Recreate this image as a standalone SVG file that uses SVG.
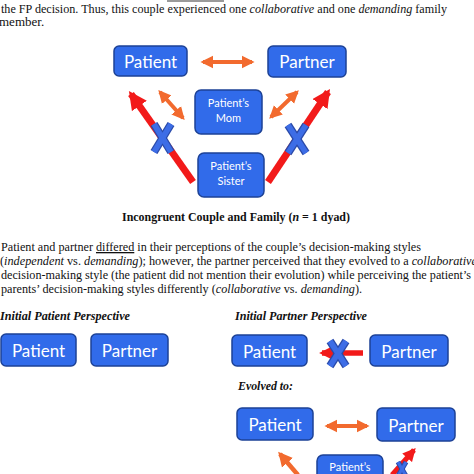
<svg xmlns="http://www.w3.org/2000/svg" width="474" height="474" viewBox="0 0 474 474">
<style>
.t{font-family:"Liberation Serif","Times New Roman",serif;font-size:13px;fill:#111}
.h{font-family:"Liberation Serif","Times New Roman",serif;font-size:13px;font-weight:bold;fill:#111}
.hi{font-family:"Liberation Serif","Times New Roman",serif;font-size:12.5px;font-weight:bold;font-style:italic;fill:#111}
.i{font-style:italic}
.box{fill:#316BEA;stroke:#1D4296;stroke-width:1.5}
.bl{font-family:Lato,"Open Sans",sans-serif;font-size:17px;fill:#fff;text-anchor:middle}
.bs{font-family:Lato,"Open Sans",sans-serif;font-size:11px;fill:#fff;text-anchor:middle}
.or{stroke:#F26A2E;stroke-width:4;fill:none}
.rd{stroke:#F21A1A;stroke-width:7;fill:none}
.xo{stroke:#2A4AA8;stroke-width:8;stroke-linecap:butt}
.xi{stroke:#3D6DE6;stroke-width:5.5;stroke-linecap:butt}
</style>
<defs>
<marker id="oh" viewBox="0 0 10 10" refX="8" refY="5" markerWidth="3.2" markerHeight="3.4" orient="auto-start-reverse" markerUnits="strokeWidth"><path d="M0,0 L10,5 L0,10 Z" fill="#F26A2E"/></marker>
<marker id="rh" viewBox="0 0 10 10" refX="8" refY="5" markerWidth="2.6" markerHeight="2.6" orient="auto" markerUnits="strokeWidth"><path d="M0,0 L10,5 L0,10 Z" fill="#F21A1A"/></marker>
</defs>
<rect width="474" height="474" fill="#fff"/>
<rect x="167" y="0" width="57" height="2" fill="#9a9a9a"/>
<text class="t" x="1" y="13" textLength="446" lengthAdjust="spacingAndGlyphs">the FP decision. Thus, this couple experienced one <tspan class="i">collaborative</tspan> and one <tspan class="i">demanding</tspan> family</text>
<text class="t" x="-1" y="26">member.</text>
<text class="h" x="236" y="221" text-anchor="middle" textLength="228" lengthAdjust="spacingAndGlyphs">Incongruent Couple and Family (<tspan class="i">n</tspan> = 1 dyad)</text>
<text class="t" x="1" y="251" textLength="420" lengthAdjust="spacingAndGlyphs">Patient and partner <tspan text-decoration="underline">differed</tspan> in their perceptions of the couple’s decision-making styles</text>
<text class="t" x="0" y="265" textLength="477" lengthAdjust="spacingAndGlyphs">(<tspan class="i">independent</tspan> vs. <tspan class="i">demanding</tspan>); however, the partner perceived that they evolved to a <tspan class="i">collaborative</tspan></text>
<text class="t" x="1" y="279" textLength="470" lengthAdjust="spacingAndGlyphs">decision-making style (the patient did not mention their evolution) while perceiving the patient’s</text>
<text class="t" x="1" y="293" textLength="361" lengthAdjust="spacingAndGlyphs">parents’ decision-making styles differently (<tspan class="i">collaborative</tspan> vs. <tspan class="i">demanding</tspan>).</text>
<text class="hi" x="0" y="320" textLength="130" lengthAdjust="spacingAndGlyphs">Initial Patient Perspective</text>
<text class="hi" x="235" y="320" textLength="132" lengthAdjust="spacingAndGlyphs">Initial Partner Perspective</text>
<text class="hi" x="238" y="390" textLength="55" lengthAdjust="spacingAndGlyphs">Evolved to:</text>
<g id="connectors">
<line class="or" x1="203" y1="62" x2="252" y2="62" marker-start="url(#oh)" marker-end="url(#oh)"/>
<line class="or" x1="160" y1="92" x2="183" y2="118" marker-start="url(#oh)" marker-end="url(#oh)"/>
<line class="or" x1="297" y1="92" x2="271" y2="117" marker-start="url(#oh)" marker-end="url(#oh)"/>
<line class="rd" x1="193" y1="182" x2="131" y2="94" marker-end="url(#rh)"/>
<line class="rd" x1="268" y1="182" x2="328" y2="92" marker-end="url(#rh)"/>
<line class="rd" x1="363" y1="353" x2="322" y2="353" marker-end="url(#rh)" style="stroke-width:5.5"/>
<line class="or" x1="327" y1="426" x2="367" y2="426" marker-start="url(#oh)" marker-end="url(#oh)"/>
<line class="or" x1="298" y1="475" x2="280" y2="454" marker-end="url(#oh)" style="stroke-width:4.5"/>
<line class="rd" x1="392" y1="475" x2="414" y2="450" marker-end="url(#rh)" style="stroke-width:5"/>
<g id="xmarks">
<line class="xo" x1="154" y1="124" x2="171" y2="152"/><line class="xo" x1="171" y1="124" x2="154" y2="152"/>
<line class="xi" x1="154" y1="124" x2="171" y2="152"/><line class="xi" x1="171" y1="124" x2="154" y2="152"/>
<line class="xo" x1="288" y1="125" x2="306" y2="153"/><line class="xo" x1="306" y1="125" x2="288" y2="153"/>
<line class="xi" x1="288" y1="125" x2="306" y2="153"/><line class="xi" x1="306" y1="125" x2="288" y2="153"/>
<line class="xo" x1="330" y1="341" x2="346" y2="366"/><line class="xo" x1="346" y1="341" x2="330" y2="366"/>
<line class="xi" x1="330" y1="341" x2="346" y2="366"/><line class="xi" x1="346" y1="341" x2="330" y2="366"/>
<line class="xo" x1="398" y1="462" x2="406" y2="476" style="stroke-width:5"/><line class="xo" x1="406" y1="462" x2="398" y2="476" style="stroke-width:5"/>
<line class="xi" x1="398" y1="462" x2="406" y2="476" style="stroke-width:3"/><line class="xi" x1="406" y1="462" x2="398" y2="476" style="stroke-width:3"/>
</g>
</g>
<g id="top-patient"><rect class="box" x="114" y="46" width="73" height="30" rx="5"/><text class="bl" x="150.5" y="68">Patient</text></g>
<g id="top-partner"><rect class="box" x="268" y="46" width="78" height="31" rx="5"/><text class="bl" x="307" y="68">Partner</text></g>
<g id="top-mom"><rect class="box" x="195" y="90" width="67" height="44" rx="6"/><text class="bs" x="228.5" y="107">Patient’s</text><text class="bs" x="228.5" y="122">Mom</text></g>
<g id="top-sister"><rect class="box" x="198" y="153" width="66" height="44" rx="6"/><text class="bs" x="231" y="170">Patient’s</text><text class="bs" x="231" y="185">Sister</text></g>
<g id="ip-patient"><rect class="box" x="1" y="334" width="75" height="32" rx="5"/><text class="bl" x="38.5" y="357">Patient</text></g>
<g id="ip-partner"><rect class="box" x="91" y="334" width="77" height="32" rx="5"/><text class="bl" x="129.5" y="357">Partner</text></g>
<g id="ipp-patient"><rect class="box" x="232" y="335" width="75" height="31" rx="5"/><text class="bl" x="269.5" y="358">Patient</text></g>
<g id="ipp-partner"><rect class="box" x="370" y="335" width="78" height="31" rx="5"/><text class="bl" x="409" y="358">Partner</text></g>
<g id="ev-patient"><rect class="box" x="237" y="408" width="76" height="32" rx="5"/><text class="bl" x="275" y="431">Patient</text></g>
<g id="ev-partner"><rect class="box" x="377" y="408" width="78" height="33" rx="5"/><text class="bl" x="416" y="432">Partner</text></g>
<g id="ev-member"><rect class="box" x="317" y="455" width="66" height="30" rx="6"/><text class="bs" x="350" y="471">Patient’s</text></g>
</svg>
